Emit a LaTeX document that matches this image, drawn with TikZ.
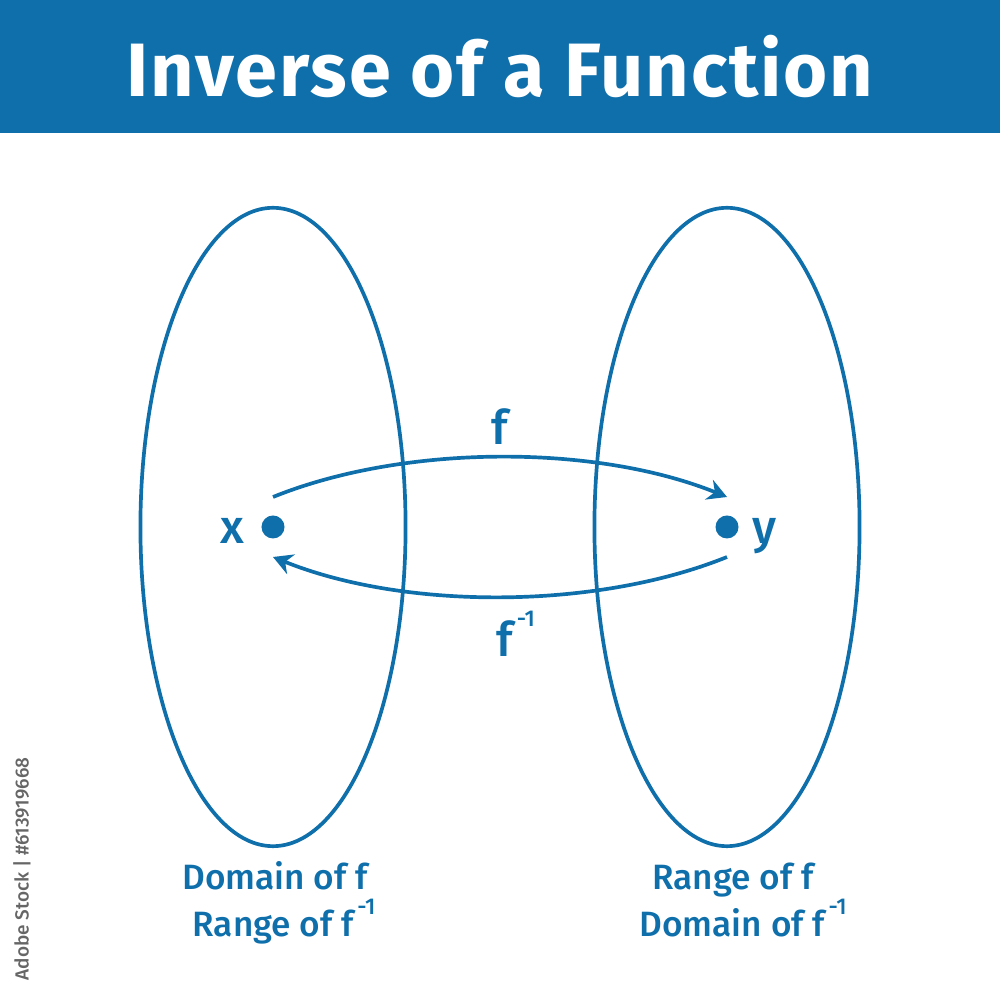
\documentclass[tikz,border=0pt]{standalone}
\usepackage{fontspec}
\usepackage{tikz}
\usetikzlibrary{shapes.geometric,arrows.meta}
\setmainfont{Fira Sans}
\newfontfamily\medfont{Fira Sans Medium}
\newfontfamily\titlefont[LetterSpace=2.5]{Fira Sans}
\definecolor{mainblue}{HTML}{0F6FAB}
\newcommand{\invf}{f\raisebox{1.2ex}{\fontsize{6.5}{7}\selectfont\,-1}}

\begin{document}
\begin{tikzpicture}[x=0.01cm,y=0.01cm,
    oval/.style = {draw=mainblue, ellipse, line width=1.05pt, minimum width=2.65cm, minimum height=6.38cm, inner sep=0pt},
    dot/.style = {fill=mainblue, circle, minimum size=0.23cm, inner sep=0pt},
    arr/.style = {draw=mainblue, line width=1.05pt, looseness=0.8, -{Stealth[length=5.5pt,width=6pt]}},
    lab/.style = {text=mainblue, font=\medfont\fontsize{13.5}{16}\selectfont, inner sep=0pt, anchor=base},
    sets/.style = {text=mainblue, font=\medfont\fontsize{10}{13}\selectfont, inner sep=0pt, anchor=base}]
            \useasboundingbox (0,0) rectangle (1000,994);
            \node[fill=mainblue, minimum width=10.2cm, minimum height=1.34cm, inner sep=0pt, anchor=north west] (bar) at (-10,996) {};
            \node[text=white, font=\titlefont\bfseries\fontsize{21.5}{26}\selectfont] (title) at (500,928) {Inverse of a Function};
            \node[oval] (left) at (273,467) {};
            \node[oval] (right) at (727,467) {};
            \node[dot] (xdot) at (left.center) {};
            \node[dot] (ydot) at (right.center) {};
            \node[lab] (xlab) at (232,450) {x};
            \node[lab] (ylab) at (764,450) {y};
            \coordinate (xtop) at (273,497);
            \coordinate (ytop) at (727,497);
            \coordinate (xlow) at (273,437);
            \coordinate (ylow) at (727,437);
            \draw[arr] (xtop) to[bend left=22] (ytop);
            \draw[arr] (ylow) to[bend left=22] (xlow);
            \node[lab] (ftop) at (500,549) {f};
            \node[lab, anchor=base west] (fbot) at (496,337) {\invf};
            \node[sets] (dom1) at (275,104) {Domain of f};
            \node[sets] (ran1) at (284,57) {Range of \invf};
            \node[sets] (ran2) at (733,104) {Range of f};
            \node[sets] (dom2) at (743,57) {Domain of \invf};
            \node[text=black!60, font=\medfont\fontsize{5.4}{7}\selectfont, rotate=90, inner sep=0pt] (stock) at (22,125) {Adobe Stock | \#613919668};
        \end{tikzpicture}
\end{document}
